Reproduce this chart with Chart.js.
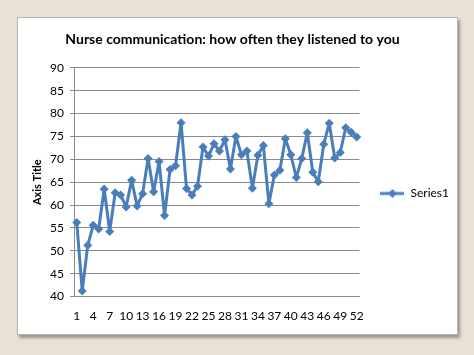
<!DOCTYPE html>
<html>
<head>
<meta charset="utf-8">
<script src="https://cdn.jsdelivr.net/npm/chart.js@4.4.1/dist/chart.umd.min.js"></script>
<style>
  html, body { margin: 0; padding: 0; }
  body { width: 474px; height: 355px; background: #e8e2d6; position: relative; overflow: hidden; }
  #card { position: absolute; left: 17px; top: 17px; width: 439px; height: 316px; background: #fff;
          border: 1px solid #b9b4ab; box-shadow: 2px 3px 3px rgba(0,0,0,0.35); }
  #c { position: absolute; left: 0; top: 0; }
</style>
</head>
<body>
<div id="card"></div>
<canvas id="c" width="474" height="355"></canvas>
<script>
const categories = ["1","2","3","4","5","6","7","8","9","10","11","12","13","14","15","16","17","18","19","20","21","22","23","24","25","26","27","28","29","30","31","32","33","34","35","36","37","38","39","40","41","42","43","44","45","46","47","48","49","50","51","52"];
const series1 = [56.2,41.2,51.2,55.6,54.8,63.5,54.2,62.7,62.2,59.6,65.4,59.8,62.5,70.2,62.9,69.5,57.7,67.8,68.6,78.0,63.6,62.2,64.1,72.7,70.7,73.4,71.8,74.3,67.9,75.0,71.0,71.8,63.7,70.9,73.0,60.3,66.6,67.6,74.5,71.0,66.0,70.2,75.8,67.2,65.1,73.3,77.9,70.3,71.5,76.9,75.9,74.9];
const xTickLabels = ["1","4","7","10","13","16","19","22","25","28","31","34","37","40","43","46","49","52"];
const yTicks = [40,45,50,55,60,65,70,75,80,85,90];
const title = "Nurse communication: how often they listened to you";
const yAxisTitle = "Axis Title";
const seriesName = "Series1";

const BLUE = '#4a7ebb';
const FONT = 'Lato, "Liberation Sans", sans-serif';

// legend symbol: line with a diamond
const sym = document.createElement('canvas');
sym.width = 24; sym.height = 10;
(function(){
  const g = sym.getContext('2d');
  g.strokeStyle = BLUE; g.lineWidth = 3;
  g.beginPath(); g.moveTo(0,5); g.lineTo(24,5); g.stroke();
  g.fillStyle = BLUE;
  g.beginPath(); g.moveTo(12,0.5); g.lineTo(16.5,5); g.lineTo(12,9.5); g.lineTo(7.5,5); g.closePath(); g.fill();
})();

const legendShift = {
  id: 'legendShift',
  afterLayout(chart) {
    const lg = chart.legend;
    if (!lg) return;
    const dx = 11, dy = 26;
    lg.left += dx; lg.right += dx; lg.top += dy; lg.bottom += dy;
  }
};

new Chart(document.getElementById('c'), {
  type: 'line',
  data: {
    labels: categories,
    datasets: [{
      label: seriesName,
      data: series1,
      borderColor: BLUE,
      backgroundColor: BLUE,
      borderWidth: 3,
      borderJoinStyle: 'round',
      tension: 0,
      pointStyle: 'rectRot',
      pointRadius: 4.5,
      pointBackgroundColor: BLUE,
      pointBorderColor: BLUE,
      pointBorderWidth: 0
    }]
  },
  options: {
    responsive: false,
    animation: false,
    devicePixelRatio: 1,
    layout: { padding: { left: 17, top: 0, right: 26, bottom: 20 } },
    plugins: {
      title: {
        display: true, text: title, color: '#000',
        font: { family: FONT, size: 14, weight: 'bold' },
        padding: { top: 31, bottom: 20 }
      },
      legend: {
        display: true, position: 'right',
        labels: {
          color: '#000', font: { family: FONT, size: 12 },
          usePointStyle: true, pointStyle: sym, pointStyleWidth: 24, padding: 10,
          generateLabels(chart) {
            return [{ text: seriesName, pointStyle: sym, fillStyle: BLUE, strokeStyle: BLUE, lineWidth: 0, datasetIndex: 0, fontColor: '#000' }];
          }
        }
      },
      tooltip: { enabled: false }
    },
    scales: {
      x: {
        offset: true,
        grid: { display: false, drawTicks: false },
        border: { display: true, color: '#8a8a8a', width: 1 },
        ticks: {
          autoSkip: false, maxRotation: 0, padding: 12, color: '#000',
          font: { family: FONT, size: 12 },
          callback(v, i) { const l = categories[i]; return xTickLabels.includes(l) ? l : null; }
        }
      },
      y: {
        min: 40, max: 90,
        afterFit(s) { s.width = 57; },
        afterBuildTicks(s) { s.ticks = yTicks.map(v => ({ value: v })); },
        grid: { color: '#8a8a8a', lineWidth: 1, drawTicks: true, tickLength: 4, tickColor: '#8a8a8a' },
        border: { display: true, color: '#8a8a8a', width: 1 },
        ticks: { color: '#000', padding: 6, font: { family: FONT, size: 12 } },
        title: {
          display: true, text: yAxisTitle, color: '#000',
          font: { family: FONT, size: 11, weight: 'bold' },
          padding: { top: 14, bottom: 0 }
        }
      }
    }
  },
  plugins: [legendShift]
});
</script>
</body>
</html>
